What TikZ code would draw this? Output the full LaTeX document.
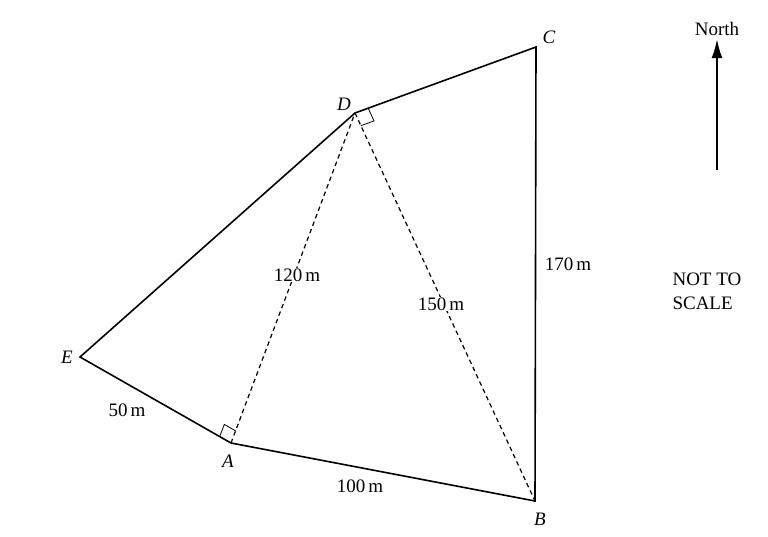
\documentclass[tikz,border=0pt]{standalone}
\usepackage{fontspec}
\setmainfont{Liberation Serif}
\usetikzlibrary{calc,arrows.meta}

\begin{document}
\begin{tikzpicture}[x=1pt,y=-1pt]
        \tikzstyle{every node}=[font=\fontsize{19}{22}\selectfont]
        \tikzstyle{side}=[line width=1.6pt]
        \tikzstyle{diag}=[line width=1.2pt,dash pattern=on 4.5pt off 3.5pt]
        \tikzstyle{rightang}=[line width=0.8pt]
        \tikzstyle{len}=[fill=white,inner sep=1pt]
        \useasboundingbox (0,0) rectangle (768,536);

        \coordinate (C) at (536,47);
        \coordinate (D) at (355,113);
        \coordinate (E) at (80,357);
        \coordinate (A) at (231,443);
        \coordinate (B) at (535,501);

        \node at (549,37)  (Clabel) {\textit{C}};
        \node at (344,104) (Dlabel) {\textit{D}};
        \node at (67,357)  (Elabel) {\textit{E}};
        \node at (228,461) (Alabel) {\textit{A}};
        \node at (540,519) (Blabel) {\textit{B}};

        \draw[side] (A) -- (E) -- (D) -- (C) -- (B) -- (A);
        \draw[diag] (A) -- (D);  % A->D
        \draw[diag] (D) -- (B);  % D->B

        % right angles
        \coordinate (dc) at ($(D)!14pt!(C)$);
        \coordinate (db) at ($(D)!14pt!(B)$);
        \draw[rightang] (dc) -- ($(dc)+(db)-(D)$) -- (db);
        \coordinate (ae) at ($(A)!13pt!(E)$);
        \coordinate (ad) at ($(A)!13pt!(D)$);
        \draw[rightang] (ae) -- ($(ae)+(ad)-(A)$) -- (ad);

        \node[len] at (297,275) (AD) {120\,m};
        \node[len] at (441,304) (DB) {150\,m};
        \node at (568,264) (CB) {170\,m};
        \node at (127,410) (EA) {50\,m};
        \node at (360,486) (AB) {100\,m};

        % north
        \node at (717,29) (north) {North};
        \coordinate (ntail) at (717,170);
        \draw[line width=1.8pt,-{Latex[length=19pt,width=11pt]}] (ntail) -- (north.south);

        \node[anchor=west,align=left,font=\fontsize{19}{24}\selectfont] at (669,291) (nts) {NOT TO\\SCALE};
\end{tikzpicture}
\end{document}
